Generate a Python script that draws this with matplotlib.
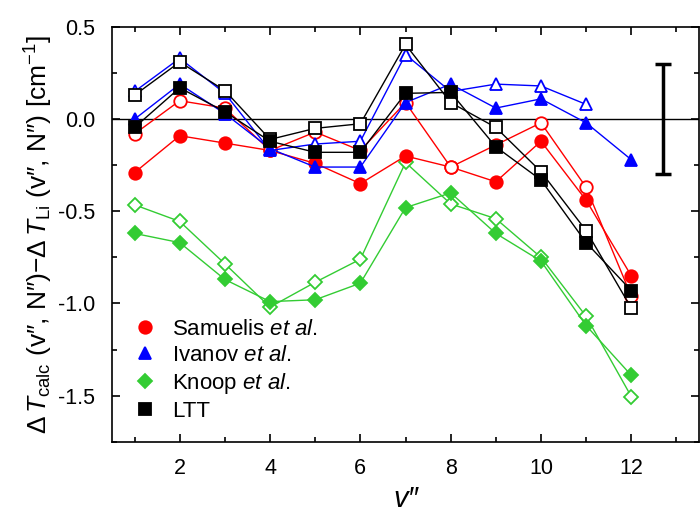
import matplotlib
matplotlib.use("Agg")
import matplotlib.pyplot as plt
from matplotlib.ticker import MultipleLocator
import numpy as np

plt.rcParams['font.family'] = ['Liberation Sans', 'DejaVu Sans']
plt.rcParams['mathtext.fontset'] = 'custom'
plt.rcParams['mathtext.rm'] = 'Liberation Sans'
plt.rcParams['mathtext.it'] = 'Liberation Sans:italic'
plt.rcParams['mathtext.bf'] = 'Liberation Sans:bold'
plt.rcParams['mathtext.fallback'] = 'stixsans'
plt.rcParams['axes.unicode_minus'] = False

# vibrational levels v''
v = np.arange(1, 13)

# Samuelis et al.
samuelis_a = [-0.29, -0.09, -0.13, -0.17, -0.24, -0.35, -0.20, -0.26, -0.34, -0.12, -0.44, -0.85]
samuelis_b = [-0.08, 0.10, 0.06, -0.17, -0.07, -0.17, 0.09, -0.26, -0.14, -0.02, -0.37, -0.96]
# Ivanov et al.
ivanov_a = [0.00, 0.19, 0.03, -0.16, -0.26, -0.26, 0.09, 0.19, 0.06, 0.11, -0.02, -0.22]
ivanov_b = [0.15, 0.33, 0.14, -0.17, -0.135, -0.12, 0.35, 0.15, 0.19, 0.18, 0.08]
# Knoop et al.
knoop_a = [-0.62, -0.67, -0.87, -0.99, -0.98, -0.89, -0.48, -0.40, -0.62, -0.77, -1.12, -1.39]
knoop_b = [-0.465, -0.555, -0.785, -1.02, -0.885, -0.76, -0.235, -0.46, -0.54, -0.75, -1.07, -1.505]
# LTT
ltt_a = [-0.045, 0.17, 0.04, -0.12, -0.18, -0.18, 0.14, 0.145, -0.15, -0.33, -0.67, -0.93]
ltt_b = [0.13, 0.31, 0.155, -0.11, -0.05, -0.025, 0.405, 0.09, -0.045, -0.285, -0.605, -1.025]

# error bar
err_x = 12.7
err_val = 0.3

green = '#33cc33'

fig = plt.figure(figsize=(7.0, 5.14), dpi=100)
ax = fig.add_axes([0.16, 0.1407, 0.8386, 0.8068])

ax.axhline(0, color='black', lw=1.0, zorder=1)

def series(y, color, marker, ms, filled, label=None):
    n = len(y)
    ax.plot(v[:n], y, '-', color=color, lw=1.0, marker=marker, ms=ms,
            mfc=color if filled else 'white', mec=color, mew=1.3,
            label=label, zorder=3)

series(knoop_b, green, 'D', 7.5, False)
series(knoop_a, green, 'D', 7.5, True, r'Knoop $\mathit{et\ al.}$')
series(samuelis_a, 'red', 'o', 9, True, r'Samuelis $\mathit{et\ al.}$')
series(samuelis_b, 'red', 'o', 9, False)
series(ivanov_b, 'blue', '^', 9, False)
series(ivanov_a, 'blue', '^', 9, True, r'Ivanov $\mathit{et\ al.}$')
series(ltt_b, 'black', 's', 9, False)
series(ltt_a, 'black', 's', 9, True, 'LTT')

ax.errorbar([err_x], [0], yerr=err_val, color='black', elinewidth=2.5,
            capsize=6, capthick=2.5, zorder=4)

ax.set_xlim(0.5, 13.5)
ax.set_ylim(-1.75, 0.5)
ax.xaxis.set_major_locator(MultipleLocator(2))
ax.xaxis.set_minor_locator(MultipleLocator(1))
ax.yaxis.set_major_locator(MultipleLocator(0.5))
ax.yaxis.set_minor_locator(MultipleLocator(0.25))
ax.tick_params(which='both', direction='in', top=True, right=True, width=1.2,
               labelsize=15.5)
ax.tick_params(axis='x', pad=12)
ax.tick_params(axis='y', pad=12)
ax.tick_params(which='major', length=6)
ax.tick_params(which='minor', length=3.5)
ax.yaxis.set_major_formatter(matplotlib.ticker.FormatStrFormatter('%.1f'))
for s in ax.spines.values():
    s.set_linewidth(1.2)

ax.set_xlabel("v\u2033", fontsize=21, fontstyle='italic', labelpad=4)
ax.set_ylabel("$\\Delta\\,\\mathit{T}_{\\mathrm{calc}}$ (v\u2033, N\u2033)"
              "$-\\Delta\\,\\mathit{T}_{\\mathrm{Li}}$ (v\u2033, N\u2033) [cm$^{-1}$]",
              fontsize=19, labelpad=2)

h, l = ax.get_legend_handles_labels()
order = [l.index(k) for k in [r'Samuelis $\mathit{et\ al.}$', r'Ivanov $\mathit{et\ al.}$',
                              r'Knoop $\mathit{et\ al.}$', 'LTT']]
ax.legend([h[i] for i in order], [l[i] for i in order], loc='lower left',
          bbox_to_anchor=(0.0, 0.0), frameon=False, fontsize=16,
          handlelength=1.2, handletextpad=0.6, labelspacing=0.22,
          numpoints=1)
leg = ax.get_legend()
for line in leg.get_lines():
    line.set_linestyle('none')

fig.savefig('out.png', dpi=100)
